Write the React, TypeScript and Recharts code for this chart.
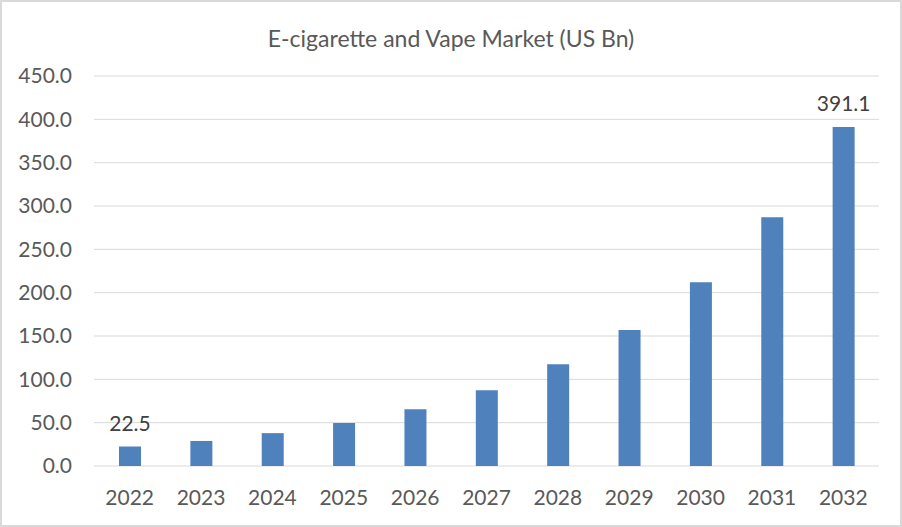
import React from "react";
import { BarChart, Bar, XAxis, YAxis, CartesianGrid, LabelList } from "recharts";

const years = ["2022", "2023", "2024", "2025", "2026", "2027", "2028", "2029", "2030", "2031", "2032"];
const marketValues = [22.5, 28.9, 37.9, 49.7, 65.5, 87.5, 117.5, 157.0, 212.0, 287.0, 391.1];
const yTicks = [0, 50, 100, 150, 200, 250, 300, 350, 400, 450];
const labelledIndices = [0, 10];
const title = "E-cigarette and Vape Market (US Bn)";

const data = years.map((year, i) => ({ year, value: marketValues[i] }));

const FONT = "Lato, 'Open Sans', sans-serif";
const W = 902;
const H = 527;

const renderLabel = (props: any) => {
  const { x, y, width, value, index } = props;
  if (!labelledIndices.includes(index)) return null;
  return (
    <text
      x={x + width / 2}
      y={y - 16}
      textAnchor="middle"
      fill="#404040"
      fontSize={21}
      fontFamily={FONT}
    >
      {Number(value).toFixed(1)}
    </text>
  );
};

export default function App() {
  return (
    <div style={{ position: "absolute", left: 0, top: 0, width: W, height: H, background: "#fff" }}>
      <div
        style={{
          position: "absolute",
          left: 0,
          top: 23,
          width: W,
          textAlign: "center",
          fontFamily: FONT,
          fontSize: 23,
          color: "#595959",
          lineHeight: "30px",
        }}
      >
        {title}
      </div>
      <BarChart
        width={W}
        height={H}
        data={data}
        margin={{ top: 76, right: 23, bottom: 0, left: 0 }}
        style={{ fontFamily: FONT }}
      >
        <CartesianGrid vertical={false} stroke="#d9d9d9" strokeWidth={1} />
        <XAxis
          dataKey="year"
          axisLine={false}
          tickLine={false}
          height={61}
          tickMargin={18}
          tick={{ fill: "#595959", fontSize: 21, fontFamily: FONT }}
        />
        <YAxis
          width={94}
          domain={[0, 450]}
          ticks={yTicks}
          axisLine={false}
          tickLine={false}
          tickMargin={16}
          tickFormatter={(v: number) => v.toFixed(1)}
          tick={{ fill: "#595959", fontSize: 21, fontFamily: FONT }}
        />
        <Bar dataKey="value" fill="#4f81bd" barSize={22} isAnimationActive={false}>
          <LabelList dataKey="value" content={renderLabel} />
        </Bar>
      </BarChart>
      <div
        style={{
          position: "absolute",
          left: 0,
          top: 0,
          width: W,
          height: H,
          boxSizing: "border-box",
          border: "2px solid #d9d9d9",
          pointerEvents: "none",
        }}
      />
    </div>
  );
}
